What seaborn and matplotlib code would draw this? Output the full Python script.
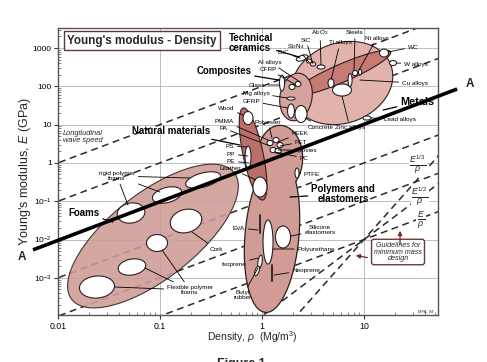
import numpy as np
import pandas as pd
import matplotlib
matplotlib.use("Agg")
import matplotlib.pyplot as plt
import seaborn as sns
from matplotlib.ticker import FixedLocator, FixedFormatter, LogLocator, NullFormatter

# ---------------- data ----------------
x_ticks = [0.01, 0.1, 1, 10]
x_tick_labels = ["0.01", "0.1", "1", "10"]
y_ticks = [1e-4, 1e-3, 1e-2, 1e-1, 1, 10, 100, 1000]
y_tick_labels = [r"$10^{-4}$", r"$10^{-3}$", r"$10^{-2}$", r"$10^{-1}$", "1", "10", "100", "1000"]
x_limits = [0.01, 53.1]
y_limits = [1.07e-4, 3330]

# longitudinal wave speed lines, E/rho = const (GPa / (Mg/m^3))
wave_E_over_rho = [100, 10, 1, 0.1, 0.01, 0.001]
# minimum-mass guidelines converge at (rho, E)
guide_rho0 = 10
guide_E0 = 0.01
guide_exponents = [1, 2, 3]          # E/rho, E^1/2/rho, E^1/3/rho

# material family envelopes (log10 rho, log10 E, semi axes in decades, angle deg)
env_name = ["Foams", "Polymers", "Elastomers", "Natural materials",
            "Metals and ceramics", "Metals/ceramics overlap", "Composites"]
env_log_rho = [-1.069, 0.176, 0.098, -0.088, 0.784, 0.784, 0.333]
env_log_E = [-1.909, 0.128, -1.883, 0.232, 2.086, 2.347, 1.721]
env_a = [1.01, 0.314, 0.755, 0.461, 0.51, 0.52, 0.235]
env_b = [0.42, 0.216, 0.258, 0.098, 0.392, 0.088, 0.157]
env_angle = [38, 90, 85, 102, 20, 23.5, 80]

# individual material bubbles (white)
bub_log_rho = [-0.578, -0.931, -1.284, -0.745, -1.029, -1.275, -1.618,
               1.196, 1.284, 0.676, 0.784, 0.863, 0.912, 0.961, 0.578, 0.5, 0.461, 0.392,
               1.029, 0.353, 0.294, 0.196, 0.284, 0.284, 0.382,
               -0.137, -0.137, -0.020, 0.078, 0.137, 0.176, 0.108, 0.157,
               0.343, 0.206, 0.059, -0.020, -0.049]
bub_log_E = [-0.446, -0.838, -1.308, -1.517, -2.091, -2.718, -3.240,
             2.869, 2.608, 2.086, 1.903, 2.164, 2.347, 2.373, 2.504, 2.582, 2.660, 2.739,
             1.172, 2.060, 1.982, 2.086, 1.681, 1.355, 1.277,
             1.172, 0.154, -0.629, 0.520, 0.598, 0.467, 0.337, 0.311,
             -0.264, -1.935, -2.065, -2.587, -2.822]
bub_a = [0.176, 0.147, 0.137, 0.157, 0.103, 0.137, 0.172,
         0.044, 0.034, 0.044, 0.093, 0.064, 0.025, 0.029, 0.039, 0.02, 0.02, 0.059,
         0.039, 0.029, 0.029, 0.078, 0.039, 0.069, 0.083,
         0.064, 0.108, 0.098, 0.025, 0.025, 0.025, 0.025, 0.025,
         0.049, 0.108, 0.216, 0.069, 0.049]
bub_b = [0.069, 0.074, 0.098, 0.113, 0.083, 0.078, 0.108,
         0.039, 0.025, 0.029, 0.059, 0.02, 0.025, 0.015, 0.02, 0.025, 0.025, 0.025,
         0.02, 0.025, 0.025, 0.025, 0.015, 0.034, 0.059,
         0.049, 0.029, 0.069, 0.03, 0.03, 0.03, 0.03, 0.03,
         0.02, 0.074, 0.049, 0.02, 0.02]
bub_angle = [15, 15, 10, 15, 0, 10, 5,
             0, 0, 90, 0, 90, 90, 90, 0, 90, 90, 20,
             0, 0, 0, 90, 0, 90, 90,
             90, 90, 90, 90, 90, 90, 90, 90,
             90, 90, 90, 80, 70]

# short vertical marks (EVA, Neoprene)
mark_log_rho = [-0.020, 0.098]
mark_log_E_lo = [-1.830, -3.083]
mark_log_E_hi = [-1.360, -2.666]

# line A (E/rho = const selection line)
lineA_rho = [10 ** -2.245, 10 ** 1.912]
lineA_E = [10 ** -2.27, 10 ** 1.929]

# annotations: text, log rho, log E, leader targets (log rho, log E)
S = 4.6
label_text = ["Technical\nceramics", "Composites", "Metals", "Natural materials",
              "Polymers and\nelastomers", "Foams",
              r"Al$_2$O$_3$", "SiC", r"Si$_3$N$_4$", r"B$_4$C", "Ti alloys", "Steels",
              "Ni alloys", "WC", "W alloys", "Cu alloys", "Lead alloys", "Zinc alloys",
              "Concrete", "Al alloys", "CFRP", "Glass", "Mg alloys", "GFRP", "Wood",
              "PMMA", "PA", "Polyester", "PEEK", "PET", "Epoxies", "PC", "PS", "PP", "PE",
              "Leather", "PTFE", "EVA", "Isoprene", "Butyl\nrubber", "Silicone\nelastomers",
              "Polyurethane", "Neoprene", "rigid polymer\nfoams", "Cork",
              "Flexible polymer\nfoams"]
label_log_rho = [-0.324, -0.373, 1.52, -0.892, 0.794, -1.745,
                 0.569, 0.431, 0.333, 0.216, 0.765, 0.912,
                 1.127, 1.48, 1.51, 1.5, 1.353, 0.86,
                 0.575, 0.078, 0.059, -0.049, -0.059, -0.108, -0.353,
                 -0.373, -0.382, 0.059, 0.373, 0.382, 0.431, 0.412, -0.314, -0.304, -0.304,
                 -0.314, 0.490, -0.225, -0.275, -0.186, 0.569,
                 0.529, 0.431, -1.422, -0.451, -0.706]
label_log_E = [3.131, 2.399, 1.59, 0.833, -0.812, -1.308,
               3.392, 3.209, 3.026, 2.869, 3.131, 3.392,
               3.261, 3.026, 2.582, 2.086, 1.146, 0.937,
               0.937, 2.634, 2.452, 2.034, 1.825, 1.616, 1.433,
               1.094, 0.911, 1.068, 0.781, 0.546, 0.337, 0.128, 0.441, 0.232, 0.050,
               -0.133, -0.290, -1.700, -2.640, -3.449, -1.752,
               -2.248, -2.796, -0.342, -2.248, -3.319]
label_targets = [[(0.363, 2.765)], [(0.167, 2.164)], [(1.186, 1.381)], [(-0.216, 0.467)],
                 [(0.275, -0.890)], [(-1.461, -1.543)],
                 [(0.578, 2.556)], [(0.5, 2.582)], [(0.461, 2.634)], [(0.373, 2.739)],
                 [(0.676, 2.164)], [(0.902, 2.426)],
                 [(0.951, 2.426)], [(1.235, 2.896)], [(1.324, 2.608)], [(0.961, 2.164)],
                 [(1.069, 1.172)], [(0.784, 1.747)],
                 [(0.422, 1.172)], [(0.373, 2.112)], [(0.333, 2.034)], [(0.176, 2.034)],
                 [(0.245, 1.695)], [(0.255, 1.433)], [(-0.186, 1.251)],
                 [(0.059, 0.598)], [(0.078, 0.441)], [(0.098, 0.650)], [(0.157, 0.546)],
                 [(0.176, 0.441)], [(0.157, 0.337)], [(0.127, 0.285)], [(-0.147, 0.415)],
                 [(-0.137, 0.180)], [(-0.127, -0.003)],
                 [(-0.059, -0.446)], [(0.363, -0.264)], [(-0.039, -1.752)], [(-0.039, -2.483)],
                 [(-0.039, -2.744)], [(0.284, -1.909)],
                 [(0.108, -2.248)], [(0.118, -2.927)],
                 [(-0.706, -0.394), (-1.314, -1.099), (-1.0, -0.760)],
                 [(-0.686, -1.804)],
                 [(-0.98, -2.274), (-1.147, -2.744), (-1.441, -3.240)]]

# ---------------- styling / layout ----------------
sns.set_theme(style="ticks")
plt.rcParams["font.family"] = ["Liberation Sans", "DejaVu Sans"]
plt.rcParams["mathtext.fontset"] = "custom"
plt.rcParams["mathtext.rm"] = "Liberation Sans"
plt.rcParams["mathtext.it"] = "Liberation Sans:italic"
plt.rcParams["mathtext.bf"] = "Liberation Sans:bold"

fig = plt.figure(figsize=(4.87, 3.62), dpi=100)
ax = fig.add_axes([58 / 487, 47 / 362, 380 / 487, 287 / 362])
ax.set_xscale("log")
ax.set_yscale("log")
ax.set_xlim(*x_limits)
ax.set_ylim(*y_limits)

# screen aspect: y-decade length in units of x-decade length
pos = ax.get_position()
fw, fh = fig.get_size_inches()
xdec = pos.width * fw / np.log10(x_limits[1] / x_limits[0])
ydec = pos.height * fh / np.log10(y_limits[1] / y_limits[0])
K = ydec / xdec


def ellipse(cx, cy, a, b, ang, n=200):
    t = np.linspace(0, 2 * np.pi, n)
    u, v = a * np.cos(t), b * np.sin(t)
    th = np.deg2rad(ang)
    uu = u * np.cos(th) - v * np.sin(th)
    vv = u * np.sin(th) + v * np.cos(th)
    return 10 ** (cx + uu), 10 ** (cy + vv / K)


# grid
for xt in x_ticks[1:]:
    ax.axvline(xt, color="#bdbdbd", lw=0.7, zorder=0.5)
for yt in y_ticks[1:]:
    ax.axhline(yt, color="#bdbdbd", lw=0.7, zorder=0.5)

# dashed guide lines
rho_line = np.logspace(-2.2, 2, 60)
dash = (0, (4.5, 3))
for c in wave_E_over_rho:
    sns.lineplot(x=rho_line, y=c * rho_line, ax=ax, color="#2a2a2a", lw=1.1,
                 linestyle=dash, zorder=1, legend=False)
for n in guide_exponents[1:]:
    sns.lineplot(x=rho_line, y=guide_E0 * (rho_line / guide_rho0) ** n, ax=ax,
                 color="#2a2a2a", lw=1.1, linestyle=dash, zorder=1, legend=False)

# envelopes
edge = "#2b2020"
env_color = ["#d09b97", "#d19b96", "#d19b96", "#bb6f69", "#e2b2ad", "#c67a73", "#d6a29d"]
env_alpha = [0.88, 1, 1, 1, 1, 1, 1]
env_z = [2, 2, 2, 2.3, 2, 2.1, 2.2]
# polymers + elastomers drawn as one outlined union
for i in (1, 2):
    ex, ey = ellipse(env_log_rho[i], env_log_E[i], env_a[i], env_b[i], env_angle[i])
    ax.fill(ex, ey, facecolor="none", edgecolor=edge, lw=1.8, zorder=1.9)
for i in (1, 2):
    ex, ey = ellipse(env_log_rho[i], env_log_E[i], env_a[i], env_b[i], env_angle[i])
    ax.fill(ex, ey, facecolor=env_color[i], edgecolor="none", zorder=1.95)
for i in (0, 3, 4, 5, 6):
    ex, ey = ellipse(env_log_rho[i], env_log_E[i], env_a[i], env_b[i], env_angle[i])
    ax.fill(ex, ey, facecolor=env_color[i], edgecolor=edge, lw=0.8,
            alpha=env_alpha[i], zorder=env_z[i])

# bubbles
for cx, cy, a, b, ang in zip(bub_log_rho, bub_log_E, bub_a, bub_b, bub_angle):
    ex, ey = ellipse(cx, cy, a, b, ang, n=80)
    ax.fill(ex, ey, facecolor="white", edgecolor=edge, lw=0.8, zorder=3)

for r, lo, hi in zip(mark_log_rho, mark_log_E_lo, mark_log_E_hi):
    ax.plot([10 ** r, 10 ** r], [10 ** lo, 10 ** hi], color=edge, lw=1.3, zorder=3)

# labels with leaders
bold_set = {"Technical\nceramics", "Composites", "Metals", "Natural materials",
            "Polymers and\nelastomers", "Foams"}
bold_size = {"Technical\nceramics": 7.0, "Composites": 6.9, "Metals": 7.8,
             "Natural materials": 6.9, "Polymers and\nelastomers": 7.0, "Foams": 7.0}
for txt, lx, ly, tg in zip(label_text, label_log_rho, label_log_E, label_targets):
    isb = txt in bold_set
    fs = bold_size.get(txt, S)
    ha = "left" if txt == "Technical\nceramics" else "center"
    lw = 0.9 if isb else 0.6
    for j, (tx, ty) in enumerate(tg):
        ax.annotate(txt, xy=(10 ** tx, 10 ** ty),
                    xytext=(10 ** lx, 10 ** ly), textcoords="data",
                    ha=ha, va="center", fontsize=fs,
                    fontweight="bold" if isb else "normal",
                    color="black" if j == 0 else "none",
                    linespacing=0.95, zorder=5,
                    arrowprops=dict(arrowstyle="-", lw=lw, color="black",
                                    shrinkA=0, shrinkB=0))

# title box
ax.text(0.221, 0.955, "Young's modulus - Density", transform=ax.transAxes,
        ha="center", va="center", fontsize=8.4, fontweight="bold", zorder=6,
        bbox=dict(boxstyle="square,pad=0.3", facecolor="white", edgecolor="#5a3a3a", lw=1))

ax.text(10 ** -1.951, 10 ** 0.676, "Longitudinal\nwave speed", ha="left", va="center",
        fontsize=5.3, style="italic", linespacing=0.95, zorder=5,
        bbox=dict(boxstyle="square,pad=0.1", facecolor="white", edgecolor="none"))

# guideline exponent labels
frac_pos = [(1.559, -1.491), (1.549, -0.890), (1.529, -0.055)]
frac_txt = [r"$\frac{E}{\rho}$", r"$\frac{E^{1/2}}{\rho}$", r"$\frac{E^{1/3}}{\rho}$"]
for (fx, fy), ft in zip(frac_pos, frac_txt):
    ax.text(10 ** fx, 10 ** fy, ft, ha="center", va="center", fontsize=9, zorder=5,
            bbox=dict(boxstyle="square,pad=0.05", facecolor="white", edgecolor="none"))

# guidelines box with arrows
ax.text(10 ** 1.333, 10 ** -2.326, "Guidelines for\nminimum mass\ndesign", ha="center",
        va="center", fontsize=5.1, style="italic", linespacing=0.95, zorder=6,
        bbox=dict(boxstyle="round,pad=0.35", facecolor="white", edgecolor="#6b3b3b", lw=1))
ax.annotate("", xy=(10 ** 0.892, 10 ** -2.405), xytext=(10 ** 1.059, 10 ** -2.483),
            arrowprops=dict(arrowstyle="-|>", color="#7a2525", lw=0.9, mutation_scale=6),
            zorder=6)
ax.annotate("", xy=(10 ** 1.353, 10 ** -1.70), xytext=(10 ** 1.353, 10 ** -2.196),
            arrowprops=dict(arrowstyle="-|>", color="#7a2525", lw=0.9, mutation_scale=6),
            zorder=6)

ax.text(10 ** 1.60, 10 ** -3.89, "MFA, 04", fontsize=3, ha="center", va="center", zorder=5)

# line A
ax.plot(lineA_rho, lineA_E, color="black", lw=2.6, clip_on=False, zorder=8,
        solid_capstyle="butt")
ax.text(10 ** -2.353, 10 ** -2.457, "A", fontsize=8.5, fontweight="bold", ha="center",
        va="center")
ax.text(10 ** 2.039, 10 ** 2.06, "A", fontsize=8.5, fontweight="bold", ha="center",
        va="center")

# axes styling
ax.xaxis.set_major_locator(FixedLocator(x_ticks))
ax.xaxis.set_major_formatter(FixedFormatter(x_tick_labels))
ax.yaxis.set_major_locator(FixedLocator(y_ticks))
ax.yaxis.set_major_formatter(FixedFormatter(y_tick_labels))
ax.xaxis.set_minor_locator(LogLocator(base=10, subs=np.arange(2, 10)))
ax.yaxis.set_minor_locator(LogLocator(base=10, subs=np.arange(2, 10), numticks=20))
ax.xaxis.set_minor_formatter(NullFormatter())
ax.yaxis.set_minor_formatter(NullFormatter())
ax.tick_params(which="major", direction="out", length=3, width=0.8, labelsize=6.3,
               pad=2, colors="#333333", labelcolor="black")
ax.tick_params(axis="y", which="major", labelsize=6.0, pad=1.5)
ax.tick_params(which="minor", direction="in", length=2, width=0.5, colors="#555555")
for sp in ax.spines.values():
    sp.set_color("#555555")
    sp.set_linewidth(1.0)

ax.set_ylabel("Young's modulus, $E$ (GPa)", fontsize=9)
ax.yaxis.set_label_coords(-0.066, 0.5)
ax.set_xlabel(r"Density, $\rho$  (Mg/m$^3$)", fontsize=7.5)
ax.xaxis.set_label_coords(0.511, -0.05)

fig.text(217 / 487, 4 / 362, "Figure 1", ha="left", va="top", fontsize=9, fontweight="bold")

fig.savefig("out.png", dpi=100)
